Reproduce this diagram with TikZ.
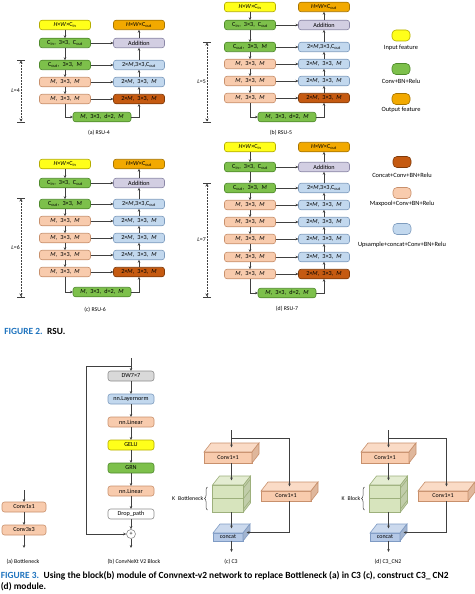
\documentclass[tikz,border=0pt]{standalone}
\usepackage{fontspec}
\setmainfont{Carlito}
\usepackage{xcolor}
\usepackage{tikz}
\usetikzlibrary{arrows.meta}
\usetikzlibrary{decorations.pathreplacing}

\definecolor{inyel}{HTML}{FFFF1A}
\definecolor{inyelD}{HTML}{B4AC00}
\definecolor{cvgrn}{HTML}{7DC04B}
\definecolor{cvgrnD}{HTML}{4F8A2C}
\definecolor{outor}{HTML}{F2A900}
\definecolor{outorD}{HTML}{A67400}
\definecolor{catbr}{HTML}{C55A11}
\definecolor{catbrD}{HTML}{7F3A0A}
\definecolor{mxpk}{HTML}{F8CBAD}
\definecolor{mxpkD}{HTML}{C8906C}
\definecolor{upbl}{HTML}{C2D8EE}
\definecolor{upblD}{HTML}{7E9CBE}
\definecolor{addlv}{HTML}{D2CEE2}
\definecolor{addlvD}{HTML}{8A86A6}
\definecolor{dwgr}{HTML}{D9D9D9}
\definecolor{dwgrD}{HTML}{8C8C8C}
\definecolor{stkgr}{HTML}{D7E4BD}
\definecolor{stkgrD}{HTML}{9DB07C}
\definecolor{catbl}{HTML}{B4C8E6}
\definecolor{catblD}{HTML}{7F9BC4}
\definecolor{linec}{HTML}{404040}
\definecolor{capbl}{HTML}{1E73BE}

\begin{document}
\begin{tikzpicture}[x=1pt, y=-1pt, line width=0.6pt,
    blk/.style={draw, rounded corners=2.5pt, minimum width=51pt, minimum height=9.5pt,
      inner sep=0pt, outer sep=0pt, font=\fontsize{6.2}{7}\selectfont},
    inbox/.style={blk, fill=inyel, draw=inyelD},
    cvbox/.style={blk, fill=cvgrn, draw=cvgrnD},
    outbox/.style={blk, fill=outor, draw=outorD},
    catbox/.style={blk, fill=catbr, draw=catbrD},
    mpbox/.style={blk, fill=mxpk, draw=mxpkD},
    upbox/.style={blk, fill=upbl, draw=upblD},
    addbox/.style={blk, fill=addlv, draw=addlvD},
    dwbox/.style={blk, fill=dwgr, draw=dwgrD},
    dpbox/.style={blk, fill=white, draw=dwgrD},
    nxbox/.style={minimum width=46pt, minimum height=10pt},
    legbox/.style={minimum width=18pt, minimum height=11pt, rounded corners=4pt},
    legtxt/.style={font=\fontsize{6.4}{7}\selectfont, inner sep=0pt},
    captxt/.style={font=\fontsize{5.8}{7}\selectfont, inner sep=0pt},
    figcap/.style={anchor=base west, inner sep=0pt, font=\fontsize{9.4}{11}\selectfont\bfseries},
    slab/.style={draw, inner sep=0pt, outer sep=0pt, font=\fontsize{6}{7}\selectfont},
    arr/.style={draw=linec, -{Stealth[length=3pt, width=2.6pt]}},
    plain/.style={draw=linec},
    dimln/.style={draw=linec, line width=0.5pt, densely dotted,
      {Bar[width=8pt] Stealth[length=3pt, width=3pt]}-{Stealth[length=3pt, width=3pt] Bar[width=8pt]}},
    brc/.style={draw=linec, line width=0.5pt, decorate, decoration={brace, amplitude=3pt}},
  ]
  \useasboundingbox (0,0) rectangle (474,594);

  % (a) RSU-4
  \node[inbox] (r4in) at (65,25) {\textit{H}×\textit{W}×C\textsubscript{in}};
  \node[cvbox] (r4c1) at (65,43) {C\textsubscript{in},\enspace3×3,\enspace C\textsubscript{out}};
  \node[cvbox] (r4c2) at (65,65) {C\textsubscript{out},\enspace3×3,\enspace\textit{M}};
  \node[mpbox] (r4m1) at (65,82) {\textit{M},\enspace3×3,\enspace\textit{M}};
  \node[mpbox] (r4m2) at (65,99) {\textit{M},\enspace3×3,\enspace\textit{M}};
  \node[cvbox, minimum width=58pt] (r4dl) at (102,117) {\textit{M},\enspace3×3,\enspace d=2,\enspace\textit{M}};
  \node[outbox] (r4out) at (139,25) {\textit{H}×\textit{W}×C\textsubscript{out}};
  \node[addbox] (r4add) at (139,43) {Addition};
  \node[upbox] (r4u0) at (139,65) {2×\textit{M},3×3,C\textsubscript{out}};
  \node[upbox] (r4u1) at (139,82) {2×\textit{M},\enspace3×3,\enspace\textit{M}};
  \node[catbox] (r4u2) at (139,99) {2×\textit{M},\enspace3×3,\enspace\textit{M}};
  \node[captxt] (r4cap) at (99,133) {(a) RSU-4};
  \coordinate (r4top) at (21,60);
  \coordinate (r4bot) at (21,122);
  \draw[dimln] (r4top) -- (r4bot) node[midway, left=1pt, captxt] {\textit{L}=4};
  \draw[arr] (r4in) -- (r4c1);
  \draw[arr] (r4c1) -- (r4c2);
  \draw[arr] (r4c2) -- (r4m1);
  \draw[arr] (r4m1) -- (r4m2);
  \draw[arr] (r4m2) |- (r4dl);
  \draw[arr] (r4dl) -| (r4u2);
  \draw[arr] (r4c1) -- (r4add);
  \draw[arr] (r4c2) -- (r4u0);
  \draw[arr] (r4m1) -- (r4u1);
  \draw[arr] (r4m2) -- (r4u2);
  \draw[arr] (r4u2) -- (r4u1);
  \draw[arr] (r4u1) -- (r4u0);
  \draw[arr] (r4u0) -- (r4add);
  \draw[arr] (r4add) -- (r4out);

  % (b) RSU-5
  \node[inbox] (r5in) at (250,7) {\textit{H}×\textit{W}×C\textsubscript{in}};
  \node[cvbox] (r5c1) at (250,25) {C\textsubscript{in},\enspace3×3,\enspace C\textsubscript{out}};
  \node[cvbox] (r5c2) at (250,47) {C\textsubscript{out},\enspace3×3,\enspace\textit{M}};
  \node[mpbox] (r5m1) at (250,64) {\textit{M},\enspace3×3,\enspace\textit{M}};
  \node[mpbox] (r5m2) at (250,81) {\textit{M},\enspace3×3,\enspace\textit{M}};
  \node[mpbox] (r5m3) at (250,98) {\textit{M},\enspace3×3,\enspace\textit{M}};
  \node[cvbox, minimum width=58pt] (r5dl) at (287,117) {\textit{M},\enspace3×3,\enspace d=2,\enspace\textit{M}};
  \node[outbox] (r5out) at (324,7) {\textit{H}×\textit{W}×C\textsubscript{out}};
  \node[addbox] (r5add) at (324,25) {Addition};
  \node[upbox] (r5u0) at (324,47) {2×\textit{M},3×3,C\textsubscript{out}};
  \node[upbox] (r5u1) at (324,64) {2×\textit{M},\enspace3×3,\enspace\textit{M}};
  \node[upbox] (r5u2) at (324,81) {2×\textit{M},\enspace3×3,\enspace\textit{M}};
  \node[catbox] (r5u3) at (324,98) {2×\textit{M},\enspace3×3,\enspace\textit{M}};
  \node[captxt] (r5cap) at (281,133) {(b) RSU-5};
  \coordinate (r5top) at (207,42);
  \coordinate (r5bot) at (207,122);
  \draw[dimln] (r5top) -- (r5bot) node[midway, left=1pt, captxt] {\textit{L}=5};
  \draw[arr] (r5in) -- (r5c1);
  \draw[arr] (r5c1) -- (r5c2);
  \draw[arr] (r5c2) -- (r5m1);
  \draw[arr] (r5m1) -- (r5m2);
  \draw[arr] (r5m2) -- (r5m3);
  \draw[arr] (r5m3) |- (r5dl);
  \draw[arr] (r5dl) -| (r5u3);
  \draw[arr] (r5c1) -- (r5add);
  \draw[arr] (r5c2) -- (r5u0);
  \draw[arr] (r5m1) -- (r5u1);
  \draw[arr] (r5m2) -- (r5u2);
  \draw[arr] (r5m3) -- (r5u3);
  \draw[arr] (r5u3) -- (r5u2);
  \draw[arr] (r5u2) -- (r5u1);
  \draw[arr] (r5u1) -- (r5u0);
  \draw[arr] (r5u0) -- (r5add);
  \draw[arr] (r5add) -- (r5out);

  % (c) RSU-6
  \node[inbox] (r6in) at (65,164) {\textit{H}×\textit{W}×C\textsubscript{in}};
  \node[cvbox] (r6c1) at (65,183) {C\textsubscript{in},\enspace3×3,\enspace C\textsubscript{out}};
  \node[cvbox] (r6c2) at (65,204) {C\textsubscript{out},\enspace3×3,\enspace\textit{M}};
  \node[mpbox] (r6m1) at (65,221) {\textit{M},\enspace3×3,\enspace\textit{M}};
  \node[mpbox] (r6m2) at (65,238) {\textit{M},\enspace3×3,\enspace\textit{M}};
  \node[mpbox] (r6m3) at (65,255) {\textit{M},\enspace3×3,\enspace\textit{M}};
  \node[mpbox] (r6m4) at (65,272) {\textit{M},\enspace3×3,\enspace\textit{M}};
  \node[cvbox, minimum width=58pt] (r6dl) at (102,292) {\textit{M},\enspace3×3,\enspace d=2,\enspace\textit{M}};
  \node[outbox] (r6out) at (139,164) {\textit{H}×\textit{W}×C\textsubscript{out}};
  \node[addbox] (r6add) at (139,183) {Addition};
  \node[upbox] (r6u0) at (139,204) {2×\textit{M},3×3,C\textsubscript{out}};
  \node[upbox] (r6u1) at (139,221) {2×\textit{M},\enspace3×3,\enspace\textit{M}};
  \node[upbox] (r6u2) at (139,238) {2×\textit{M},\enspace3×3,\enspace\textit{M}};
  \node[upbox] (r6u3) at (139,255) {2×\textit{M},\enspace3×3,\enspace\textit{M}};
  \node[catbox] (r6u4) at (139,272) {2×\textit{M},\enspace3×3,\enspace\textit{M}};
  \node[captxt] (r6cap) at (95,310) {(c) RSU-6};
  \coordinate (r6top) at (21,198);
  \coordinate (r6bot) at (21,297);
  \draw[dimln] (r6top) -- (r6bot) node[midway, left=1pt, captxt] {\textit{L}=6};
  \draw[arr] (r6in) -- (r6c1);
  \draw[arr] (r6c1) -- (r6c2);
  \draw[arr] (r6c2) -- (r6m1);
  \draw[arr] (r6m1) -- (r6m2);
  \draw[arr] (r6m2) -- (r6m3);
  \draw[arr] (r6m3) -- (r6m4);
  \draw[arr] (r6m4) |- (r6dl);
  \draw[arr] (r6dl) -| (r6u4);
  \draw[arr] (r6c1) -- (r6add);
  \draw[arr] (r6c2) -- (r6u0);
  \draw[arr] (r6m1) -- (r6u1);
  \draw[arr] (r6m2) -- (r6u2);
  \draw[arr] (r6m3) -- (r6u3);
  \draw[arr] (r6m4) -- (r6u4);
  \draw[arr] (r6u4) -- (r6u3);
  \draw[arr] (r6u3) -- (r6u2);
  \draw[arr] (r6u2) -- (r6u1);
  \draw[arr] (r6u1) -- (r6u0);
  \draw[arr] (r6u0) -- (r6add);
  \draw[arr] (r6add) -- (r6out);

  % (d) RSU-7
  \node[inbox] (r7in) at (250,147) {\textit{H}×\textit{W}×C\textsubscript{in}};
  \node[cvbox] (r7c1) at (250,167) {C\textsubscript{in},\enspace3×3,\enspace C\textsubscript{out}};
  \node[cvbox] (r7c2) at (250,188) {C\textsubscript{out},\enspace3×3,\enspace\textit{M}};
  \node[mpbox] (r7m1) at (250,205) {\textit{M},\enspace3×3,\enspace\textit{M}};
  \node[mpbox] (r7m2) at (250,222) {\textit{M},\enspace3×3,\enspace\textit{M}};
  \node[mpbox] (r7m3) at (250,239) {\textit{M},\enspace3×3,\enspace\textit{M}};
  \node[mpbox] (r7m4) at (250,257) {\textit{M},\enspace3×3,\enspace\textit{M}};
  \node[mpbox] (r7m5) at (250,274) {\textit{M},\enspace3×3,\enspace\textit{M}};
  \node[cvbox, minimum width=58pt] (r7dl) at (287,293) {\textit{M},\enspace3×3,\enspace d=2,\enspace\textit{M}};
  \node[outbox] (r7out) at (324,147) {\textit{H}×\textit{W}×C\textsubscript{out}};
  \node[addbox] (r7add) at (324,167) {Addition};
  \node[upbox] (r7u0) at (324,188) {2×\textit{M},3×3,C\textsubscript{out}};
  \node[upbox] (r7u1) at (324,205) {2×\textit{M},\enspace3×3,\enspace\textit{M}};
  \node[upbox] (r7u2) at (324,222) {2×\textit{M},\enspace3×3,\enspace\textit{M}};
  \node[upbox] (r7u3) at (324,239) {2×\textit{M},\enspace3×3,\enspace\textit{M}};
  \node[upbox] (r7u4) at (324,257) {2×\textit{M},\enspace3×3,\enspace\textit{M}};
  \node[catbox] (r7u5) at (324,274) {2×\textit{M},\enspace3×3,\enspace\textit{M}};
  \node[captxt] (r7cap) at (287,309) {(d) RSU-7};
  \coordinate (r7top) at (207,183);
  \coordinate (r7bot) at (207,297);
  \draw[dimln] (r7top) -- (r7bot) node[midway, left=1pt, captxt] {\textit{L}=7};
  \draw[arr] (r7in) -- (r7c1);
  \draw[arr] (r7c1) -- (r7c2);
  \draw[arr] (r7c2) -- (r7m1);
  \draw[arr] (r7m1) -- (r7m2);
  \draw[arr] (r7m2) -- (r7m3);
  \draw[arr] (r7m3) -- (r7m4);
  \draw[arr] (r7m4) -- (r7m5);
  \draw[arr] (r7m5) |- (r7dl);
  \draw[arr] (r7dl) -| (r7u5);
  \draw[arr] (r7c1) -- (r7add);
  \draw[arr] (r7c2) -- (r7u0);
  \draw[arr] (r7m1) -- (r7u1);
  \draw[arr] (r7m2) -- (r7u2);
  \draw[arr] (r7m3) -- (r7u3);
  \draw[arr] (r7m4) -- (r7u4);
  \draw[arr] (r7m5) -- (r7u5);
  \draw[arr] (r7u5) -- (r7u4);
  \draw[arr] (r7u4) -- (r7u3);
  \draw[arr] (r7u3) -- (r7u2);
  \draw[arr] (r7u2) -- (r7u1);
  \draw[arr] (r7u1) -- (r7u0);
  \draw[arr] (r7u0) -- (r7add);
  \draw[arr] (r7add) -- (r7out);

  % legend
  \node[inbox, legbox] (lgin) at (401,35.5) {};
  \node[legtxt] (lgint) at (401,48) {Input feature};
  \node[cvbox, legbox] (lgcv) at (401,69) {};
  \node[legtxt] (lgcvt) at (401,81) {Conv+BN+Relu};
  \node[outbox, legbox] (lgout) at (401,99) {};
  \node[legtxt] (lgoutt) at (401,110) {Output feature};
  \node[catbox, legbox] (lgcat) at (402,162) {};
  \node[legtxt] (lgcatt) at (402,175) {Concat+Conv+BN+Relu};
  \node[mpbox, legbox] (lgmp) at (402,193) {};
  \node[legtxt] (lgmpt) at (402,204) {Maxpool+Conv+BN+Relu};
  \node[upbox, legbox] (lgup) at (402,229) {};
  \node[legtxt] (lgupt) at (402,245) {Upsample+concat+Conv+BN+Relu};

  \node[figcap] (fig2cap) at (4,334) {\textcolor{capbl}{FIGURE 2.}\enspace RSU.};

  % (a) Bottleneck
  \coordinate (bnin) at (24,490);
  \coordinate (bnout) at (24,548);
  \node[mpbox, minimum width=44pt, minimum height=10pt] (bn1) at (24,507) {Conv1x1};
  \node[mpbox, minimum width=44pt, minimum height=10pt] (bn2) at (24,530) {Conv3x3};
  \draw[arr] (bnin) -- (bn1);
  \draw[arr] (bn1) -- (bn2);
  \draw[arr] (bn2) -- (bnout);
  \node[captxt] (bncap) at (23,562) {(a) Bottleneck};

  % (b) ConvNeXt V2 block
  \coordinate (nxin) at (131,358);
  \coordinate (nxsp) at (131,366);
  \coordinate (nxsk) at (86,366);
  \coordinate (nxout) at (131,548);
  \node[dwbox, nxbox] (nx1) at (131,376) {DW7×7};
  \node[upbox, nxbox] (nx2) at (131,399) {nn.Layernorm};
  \node[mpbox, nxbox] (nx3) at (131,422) {nn.Linear};
  \node[inbox, nxbox] (nx4) at (131,445) {GELU};
  \node[cvbox, nxbox] (nx5) at (131,468) {GRN};
  \node[mpbox, nxbox] (nx6) at (131,491) {nn.Linear};
  \node[dpbox, nxbox] (nx7) at (131,514) {Drop\_path};
  \node[circle, draw=dwgrD, fill=white, minimum size=9pt, inner sep=0pt, font=\fontsize{6}{7}\selectfont] (nxadd) at (131,534) {+};
  \draw[arr] (nxin) -- (nx1);
  \draw[arr] (nx1) -- (nx2);
  \draw[arr] (nx2) -- (nx3);
  \draw[arr] (nx3) -- (nx4);
  \draw[arr] (nx4) -- (nx5);
  \draw[arr] (nx5) -- (nx6);
  \draw[arr] (nx6) -- (nx7);
  \draw[arr] (nx7) -- (nxadd);
  \draw[arr] (nxadd) -- (nxout);
  \draw[plain] (nxsp) -- (nxsk);
  \draw[arr] (nxsk) |- (nxadd);
  \node[captxt] (nxcap) at (134,562) {(b) ConvNeXt V2 Block};

  % (c) C3 and (d) C3_CN2
  \node[slab, fill=mxpk, draw=mxpkD, minimum width=48pt, minimum height=11pt] (c3top) at (228,457.5) {Conv1×1};
  \node[slab, fill=stkgr, draw=stkgrD, minimum width=31pt, minimum height=27pt] (c3stk) at (228,498.5) {};
  \node[slab, fill=mxpk, draw=mxpkD, minimum width=50pt, minimum height=10pt] (c3side) at (286,496) {Conv1×1};
  \node[slab, fill=catbl, draw=catblD, minimum width=30pt, minimum height=8pt] (c3cat) at (228,537) {concat};
  \node[slab, fill=mxpk, draw=mxpkD, minimum width=48pt, minimum height=11pt] (cntop) at (385,457.5) {Conv1×1};
  \node[slab, fill=stkgr, draw=stkgrD, minimum width=31pt, minimum height=27pt] (cnstk) at (385,498.5) {};
  \node[slab, fill=mxpk, draw=mxpkD, minimum width=50pt, minimum height=10pt] (cnside) at (443,496) {Conv1×1};
  \node[slab, fill=catbl, draw=catblD, minimum width=30pt, minimum height=8pt] (cncat) at (385,537) {concat};
  \foreach \n/\cf/\cd in {c3top/mxpk/mxpkD, c3stk/stkgr/stkgrD, c3side/mxpk/mxpkD, c3cat/catbl/catblD,
      cntop/mxpk/mxpkD, cnstk/stkgr/stkgrD, cnside/mxpk/mxpkD, cncat/catbl/catblD} {
    \draw[draw=\cd, fill=\cf!70!white] (\n.north west) -- ++(7,-9) -- ([shift={(7,-9)}]\n.north east) -- (\n.north east) -- cycle;
    \draw[draw=\cd, fill=\cf!90!black] (\n.north east) -- ++(7,-9) -- ([shift={(7,-9)}]\n.south east) -- (\n.south east) -- cycle;
  }
  \draw[draw=stkgrD] (c3stk.west) -- (c3stk.east) -- ++(7,-9);
  \draw[draw=stkgrD] ([shift={(0,3)}]c3stk.north east) -- ++(7,-9);
  \draw[draw=stkgrD] ([shift={(0,-3)}]c3stk.south east) -- ++(7,-9);
  \draw[draw=stkgrD] (cnstk.west) -- (cnstk.east) -- ++(7,-9);
  \draw[draw=stkgrD] ([shift={(0,3)}]cnstk.north east) -- ++(7,-9);
  \draw[draw=stkgrD] ([shift={(0,-3)}]cnstk.south east) -- ++(7,-9);

  \coordinate (c3in) at (231.5,430);
  \coordinate (c3sp) at (231.5,438);
  \coordinate (c3out) at (231.5,552);
  \draw[arr] (c3in) -- ([shift={(3.5,-4.5)}]c3top.north);
  \draw[arr] (c3sp) -| ([shift={(3.5,-4.5)}]c3side.north);
  \draw[arr] ([xshift=3.5pt]c3top.south) -- ([shift={(3.5,-4.5)}]c3stk.north);
  \draw[arr] ([xshift=3.5pt]c3stk.south) -- ([shift={(3.5,-4.5)}]c3cat.north);
  \draw[arr] ([xshift=3.5pt]c3side.south) |- ([shift={(3.5,-4.5)}]c3cat.east);
  \draw[arr] ([xshift=3.5pt]c3cat.south) -- (c3out);
  \draw[brc] ([shift={(-5,-2)}]c3stk.south west) -- ([shift={(-5,2)}]c3stk.north west) node[midway, left=4pt, captxt] {K\enspace Bottleneck};
  \node[captxt] (c3cap) at (231,562) {(c) C3};

  \coordinate (cnin) at (388.5,430);
  \coordinate (cnsp) at (388.5,438);
  \coordinate (cnout) at (388.5,552);
  \draw[arr] (cnin) -- ([shift={(3.5,-4.5)}]cntop.north);
  \draw[arr] (cnsp) -| ([shift={(3.5,-4.5)}]cnside.north);
  \draw[arr] ([xshift=3.5pt]cntop.south) -- ([shift={(3.5,-4.5)}]cnstk.north);
  \draw[arr] ([xshift=3.5pt]cnstk.south) -- ([shift={(3.5,-4.5)}]cncat.north);
  \draw[arr] ([xshift=3.5pt]cnside.south) |- ([shift={(3.5,-4.5)}]cncat.east);
  \draw[arr] ([xshift=3.5pt]cncat.south) -- (cnout);
  \draw[brc] ([shift={(-5,-2)}]cnstk.south west) -- ([shift={(-5,2)}]cnstk.north west) node[midway, left=4pt, captxt] {K\enspace Block};
  \node[captxt] (cncap) at (388,562) {(d) C3\_CN2};

  \node[figcap] (fig3cap) at (0.5,578) {\textcolor{capbl}{FIGURE 3.}\enspace Using the block(b) module of Convnext-v2 network to replace Bottleneck (a) in C3 (c), construct C3\_ CN2};
  \node[figcap] (fig3cap2) at (0.5,589) {(d) module.};
\end{tikzpicture}
\end{document}
